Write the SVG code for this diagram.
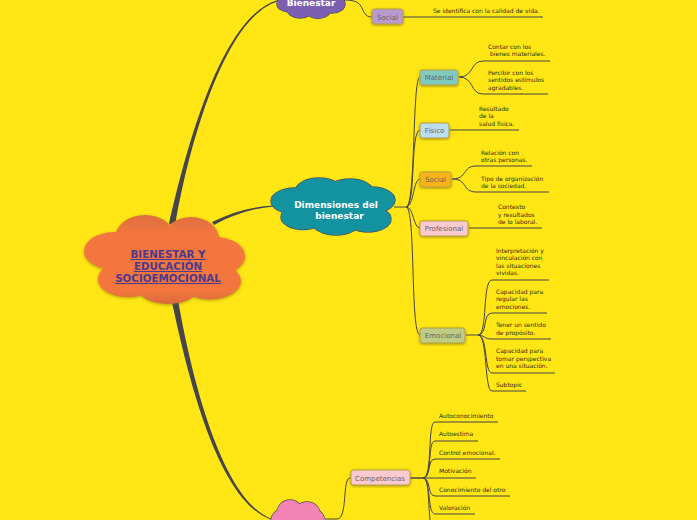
<svg xmlns="http://www.w3.org/2000/svg" width="697" height="520" viewBox="0 0 697 520">
<defs>
<filter id="sh" x="-20%" y="-20%" width="140%" height="140%"><feDropShadow dx="0" dy="1" stdDeviation="1.5" flood-color="#7a6a00" flood-opacity="0.6"/></filter>
<linearGradient id="og" gradientUnits="userSpaceOnUse" x1="0" y1="215" x2="0" y2="304"><stop offset="0" stop-color="#dd6f3f"/><stop offset="0.2" stop-color="#f2763e"/><stop offset="0.85" stop-color="#f2763e"/><stop offset="1" stop-color="#da6a3a"/></linearGradient>
</defs>
<style>
text{font-family:"DejaVu Sans",sans-serif}
.l{fill:none;stroke:#45454a;stroke-width:1}
.t{font-size:6px;fill:#2e2a10}
.b{stroke:#b5a040;stroke-width:1;filter:url(#sh)}
.n{font-size:7px;text-anchor:middle;fill:#6b6060}
.c{font-weight:bold;fill:#fff;font-size:9px;text-anchor:middle}
.m{font-size:10.300px;font-weight:bold;fill:#4d3a8f;text-anchor:middle;text-decoration:underline}
.tp{fill:#45454a}
.o{stroke:#50505a;stroke-width:1.400}
</style>
<rect width="697" height="520" fill="#ffe614"/>
<g id="connectors">
<path class="tp" d="M169 224C186 150 222 10 282 -1L282 .2C225 11 188 150 175.500 224Z"/>
<path class="tp" d="M212 222C232 212 252 206.500 274 205.500L274 206.500C254 208 234 214 214 225Z"/>
<path class="tp" d="M171.500 300C187 372 217 502 272 520L272 519C220 500 190 368 178 300Z"/>
<path class="l" d="M344 0C355 0 359 2 362 8C365 15 367 17 372 17"/>
<path class="l" d="M403 17H543"/>
<path class="l" d="M394 207H406"/>
<path class="l" d="M406 207C416 207 412 77 420 77"/>
<path class="l" d="M406 207C416 207 410 130 420 130"/>
<path class="l" d="M406 207C414 207 413 179 420 179"/>
<path class="l" d="M406 207C414 207 413 228 420 228"/>
<path class="l" d="M406 207C416 207 410 335 420 335"/>
<path class="l" d="M459 77C474 77 470 61 483 61H550"/>
<path class="l" d="M459 77C474 77 470 94 483 94H548"/>
<path class="l" d="M450 130H519"/>
<path class="l" d="M452 179C468 179 462 166 476 166H532"/>
<path class="l" d="M452 179C468 179 462 192 476 192H549"/>
<path class="l" d="M469 228H542"/>
<path class="l" d="M466 335H478"/>
<path class="l" d="M478 335C488 335 482 280 492 280H549"/>
<path class="l" d="M478 335C488 335 482 313 492 313H547"/>
<path class="l" d="M478 335C484 335 484 339 492 339H551"/>
<path class="l" d="M478 335C488 335 484 373 492 373H555"/>
<path class="l" d="M478 335C488 335 484 391 492 391H526"/>
<path class="l" d="M325 519H337C348 519 342 478 350 478"/>
<path class="l" d="M410 478H423" style="stroke-width:1.500"/>
<path class="l" d="M423 478C433 478 427 422 435 422H498"/>
<path class="l" d="M423 478C433 478 427 441 435 441H478"/>
<path class="l" d="M423 478C431 478 427 459 435 459H500"/>
<path class="l" d="M423 478H476"/>
<path class="l" d="M423 478C431 478 427 496 435 496H510"/>
<path class="l" d="M423 478C431 478 427 514 435 514H475"/>
<path class="l" d="M423 478C429 478 428 500 430 520"/>
</g>
<g id="n-bienestar">
<g class="o" fill="#7b5fb0"><ellipse cx="290" cy="4" rx="13" ry="8"/><ellipse cx="300" cy="9" rx="13" ry="9"/><ellipse cx="318" cy="9" rx="13" ry="9.500"/><ellipse cx="332" cy="4" rx="13" ry="9"/></g>
<g fill="#7b5fb0"><ellipse cx="290" cy="4" rx="13" ry="8"/><ellipse cx="300" cy="9" rx="13" ry="9"/><ellipse cx="318" cy="9" rx="13" ry="9.500"/><ellipse cx="332" cy="4" rx="13" ry="9"/><rect x="290" y="-2" width="40" height="10"/></g>
<text class="c" x="311" y="6">Bienestar</text>
</g>
<g id="n-social-top">
<rect class="b" x="372" y="9" width="31" height="15" rx="2.500" fill="#b79ad0"/>
<text class="n" x="387.500" y="20">Social</text>
</g>
<g id="n-dim">
<g class="o" fill="#13939f"><ellipse cx="319" cy="192" rx="24" ry="14"/><ellipse cx="350" cy="193" rx="24" ry="14"/><ellipse cx="295" cy="201" rx="24" ry="13"/><ellipse cx="372" cy="200" rx="23" ry="13"/><ellipse cx="303" cy="217" rx="22" ry="12.500"/><ellipse cx="336" cy="222" rx="24" ry="13"/><ellipse cx="368" cy="219" rx="23" ry="13"/></g>
<g fill="#13939f"><ellipse cx="319" cy="192" rx="24" ry="14"/><ellipse cx="350" cy="193" rx="24" ry="14"/><ellipse cx="295" cy="201" rx="24" ry="13"/><ellipse cx="372" cy="200" rx="23" ry="13"/><ellipse cx="303" cy="217" rx="22" ry="12.500"/><ellipse cx="336" cy="222" rx="24" ry="13"/><ellipse cx="368" cy="219" rx="23" ry="13"/><ellipse cx="335" cy="207" rx="45" ry="20"/></g>
<text class="c" x="336" y="208">Dimensiones del</text>
<text class="c" x="339.500" y="219">bienestar</text>
</g>
<g id="n-main">
<g fill="url(#og)" filter="url(#sh)"><ellipse cx="145" cy="238" rx="30" ry="23"/><ellipse cx="191" cy="239" rx="28" ry="22"/><ellipse cx="115" cy="251" rx="31" ry="19"/><ellipse cx="215" cy="256" rx="30" ry="19"/><ellipse cx="128" cy="279" rx="30" ry="18"/><ellipse cx="168" cy="285" rx="32" ry="19"/><ellipse cx="210" cy="281" rx="31" ry="18.500"/><ellipse cx="165" cy="260" rx="60" ry="30"/></g>
<text class="m" x="168" y="258">BIENESTAR Y </text>
<text class="m" x="168" y="270">EDUCACIÓN </text>
<text class="m" x="168" y="282">SOCIOEMOCIONAL</text>
</g>
<g id="n-material"><rect class="b" x="420" y="70" width="38" height="15" rx="2.500" fill="#7fcbc0"/><text class="n" x="439" y="80">Material</text></g>
<g id="n-fisico"><rect class="b" x="420" y="123" width="29" height="15" rx="2.500" fill="#bcdcf0"/><text class="n" x="434.500" y="133">Físico</text></g>
<g id="n-social"><rect class="b" x="420" y="172" width="31" height="15" rx="2.500" fill="#f9b316"/><text class="n" x="435.500" y="182">Social</text></g>
<g id="n-prof"><rect class="b" x="420" y="221" width="48" height="15" rx="2.500" fill="#fbc9d0"/><text class="n" x="444" y="231">Profesional</text></g>
<g id="n-emo"><rect class="b" x="420" y="328" width="45" height="15" rx="2.500" fill="#bfcc84"/><text class="n" x="443" y="338">Emocional</text></g>
<g id="n-comp"><rect class="b" x="351" y="470" width="59" height="15" rx="2.500" fill="#fbc9d0"/><text class="n" x="380" y="481">Competencias</text></g>
<g id="n-pink">
<g class="o" fill="#f284b4"><ellipse cx="290" cy="513" rx="13" ry="13"/><ellipse cx="307" cy="514" rx="13" ry="12"/><ellipse cx="281" cy="521" rx="10" ry="11"/><ellipse cx="315" cy="522" rx="10" ry="12"/></g>
<g fill="#f284b4"><ellipse cx="290" cy="513" rx="13" ry="13"/><ellipse cx="307" cy="514" rx="13" ry="12"/><ellipse cx="281" cy="521" rx="10" ry="11"/><ellipse cx="315" cy="522" rx="10" ry="12"/><rect x="285" y="512" width="25" height="8"/></g>
</g>
<g id="labels">
<text class="t" x="433" y="13">Se identifica con la calidad de vida.</text>
<text class="t" x="488" y="49">Contar con los</text><text class="t" x="490" y="56">bienes materiales.</text>
<text class="t" x="488" y="75">Percibir con los</text><text class="t" x="488" y="82">sentidos estímulos</text><text class="t" x="488" y="90">agradables.</text>
<text class="t" x="479" y="111">Resultado</text><text class="t" x="479" y="118">de la</text><text class="t" x="479" y="126">salud física.</text>
<text class="t" x="481" y="155">Relación con</text><text class="t" x="481" y="162">otras personas.</text>
<text class="t" x="481" y="181">Tipo de organización</text><text class="t" x="481" y="188">de la sociedad.</text>
<text class="t" x="498" y="209">Contexto</text><text class="t" x="498" y="217">y resultados</text><text class="t" x="498" y="224">de lo laboral.</text>
<text class="t" x="496" y="253">Interpretación y</text><text class="t" x="496" y="260">vinculación con</text><text class="t" x="496" y="268">las situaciones</text><text class="t" x="496" y="275">vividas.</text>
<text class="t" x="496" y="294">Capacidad para</text><text class="t" x="496" y="301">regular las</text><text class="t" x="496" y="309">emociones.</text>
<text class="t" x="496" y="327">Tener un sentido</text><text class="t" x="496" y="335">de propósito.</text>
<text class="t" x="496" y="353">Capacidad para</text><text class="t" x="496" y="361">tomar perspectiva</text><text class="t" x="496" y="368">en una situación.</text>
<text class="t" x="496" y="387">Subtopic</text>
<text class="t" x="439" y="418">Autoconocimiento</text>
<text class="t" x="439" y="436">Autoestima</text>
<text class="t" x="439" y="455">Control emocional.</text>
<text class="t" x="439" y="473">Motivación</text>
<text class="t" x="439" y="492">Conocimiento del otro</text>
<text class="t" x="439" y="510">Valoración</text>
</g>
</svg>
